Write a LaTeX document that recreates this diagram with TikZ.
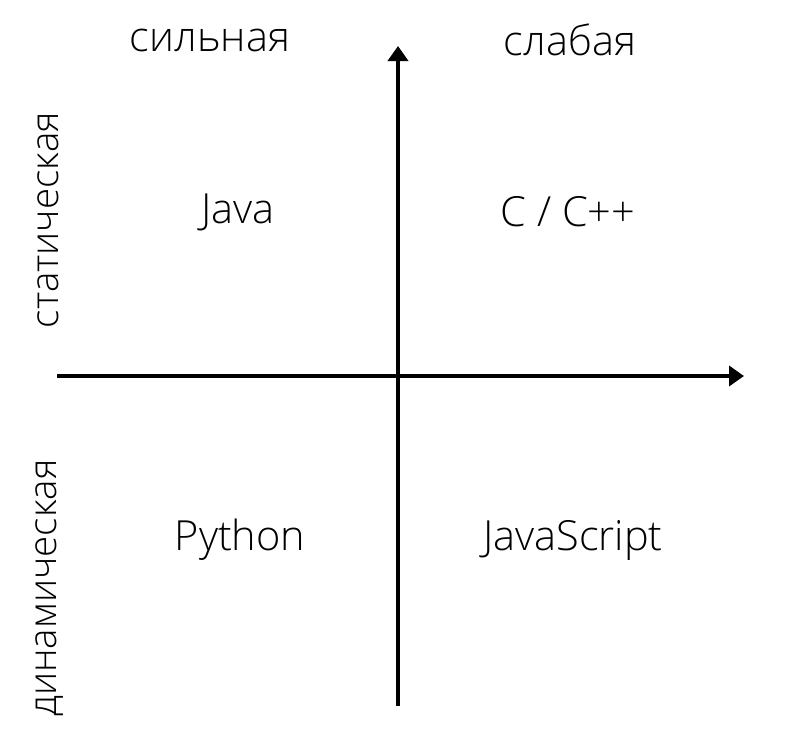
\documentclass[tikz,border=0pt]{standalone}
\usepackage{fontspec}
\setmainfont{Open Sans Light}
\usetikzlibrary{arrows.meta}
\begin{document}
\begin{tikzpicture}[x=1pt,y=-1pt,
  axis/.style={line width=4.6pt,-{Triangle[length=15pt,width=20pt]}},
  lbl/.style={font=\fontsize{41.5}{41.5}\selectfont,inner sep=0pt},
  side/.style={font=\fontsize{38.5}{38.5}\selectfont,inner sep=0pt,rotate=90}]
\useasboundingbox[fill=white] (0,0) rectangle (800,744);
\coordinate (vb) at (398,706);
\coordinate (vt) at (398,46);
\coordinate (hl) at (57,376);
\coordinate (hr) at (744,376);
\draw[axis] (vb) -- (vt);
\draw[axis] (hl) -- (hr);
\node[lbl] (s) at (210,40) {сильная};
\node[lbl] (w) at (570,40) {слабая};
\node[lbl] (java) at (238,212) {Java};
\node[lbl] (cpp) at (568,212) {C / C++};
\node[lbl] (py) at (240,540) {Python};
\node[lbl] (js) at (573,540) {JavaScript};
\node[side] (st) at (48,220) {статическая};
\node[side] (dy) at (50,588) {динамическая};
\end{tikzpicture}
\end{document}
